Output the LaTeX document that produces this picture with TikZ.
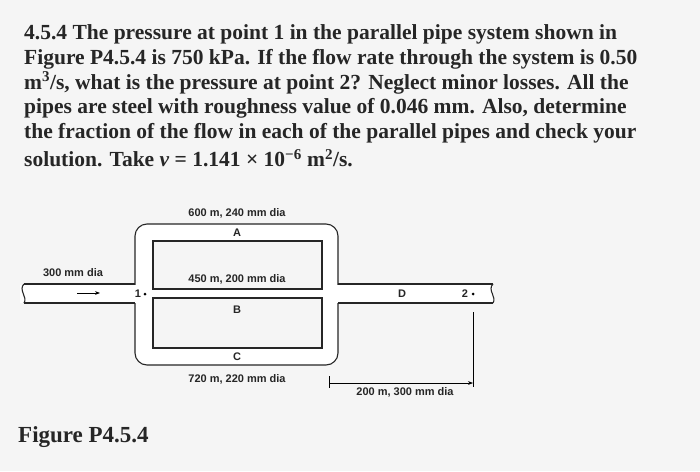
\documentclass[tikz,border=0pt]{standalone}
\usepackage{fontspec}
\setmainfont{Liberation Serif}
\newfontfamily\figsans{Liberation Sans}
\usetikzlibrary{arrows.meta}
\begin{document}
\begin{tikzpicture}[x=1pt,y=-1pt,
  body/.style={anchor=west,inner sep=0pt,font=\bfseries\fontsize{21.5}{22}\selectfont,text=black!85},
  lab/.style={inner sep=0pt,font=\figsans\bfseries\fontsize{11}{12}\selectfont,text=black!85},
  wall/.style={line width=1.1pt,draw=black!85}]
\useasboundingbox[fill=black!4] (0,0) rectangle (700,471);
\node[body] (l1) at (24,34) {4.5.4 The pressure at point 1 in the parallel pipe system shown in};
\node[body] (l2) at (24,59) {Figure P4.5.4 is 750 kPa. If the flow rate through the system is 0.50};
\node[body] (l3) at (24,83) {m\textsuperscript{3}/s, what is the pressure at point 2? Neglect minor losses. All the};
\node[body] (l4) at (24,108) {pipes are steel with roughness value of 0.046 mm. Also, determine};
\node[body] (l5) at (24,133) {the fraction of the flow in each of the parallel pipes and check your};
\node[body] (l6) at (24,158) {solution. Take \textit{ν} = 1.141 × 10\textsuperscript{−6} m\textsuperscript{2}/s.};
\node[body,font=\bfseries\fontsize{23}{24}\selectfont] (fig) at (18,437) {Figure P4.5.4};
% pipes
\draw[wall,fill=white,rounded corners=12pt] (135,224) rectangle (338,365);
\draw[wall,fill=black!4] (153,241) rectangle (322,289);
\draw[wall,fill=black!4] (153,298) rectangle (322,348);
\fill[white] (20,284.5) rectangle (140,302.5);
\fill[white] (333,284.5) rectangle (493,302.5);
\draw[wall] (24,284) -- (135,284) (24,303) -- (135,303);
\draw[wall] (338,284) -- (493,284) (338,303) -- (493,303);
\draw[wall] (24,284) .. controls (18,290) and (28,297) .. (24,303);
\draw[wall] (493,284) .. controls (487,290) and (497,297) .. (493,303);
% labels
\node[lab] (d0) at (73,273) {300 mm dia};
\draw[-{Stealth[length=5pt]},line width=0.9pt] (77,293) -- (100,293);
\node[lab] (p1) at (138,294) {1};
\fill (145,294) circle (1.5pt);
\node[lab] (dA) at (237,213) {600 m, 240 mm dia};
\node[lab] (A) at (237,233) {A};
\node[lab] (dB) at (237,279) {450 m, 200 mm dia};
\node[lab] (B) at (237,310) {B};
\node[lab] (C) at (237,357) {C};
\node[lab] (dC) at (237,379) {720 m, 220 mm dia};
\node[lab] (D) at (402,294) {D};
\node[lab] (p2) at (465,294) {2};
\coordinate (pt2) at (473,294);
\fill (pt2) circle (1.5pt);
\coordinate (dimtop) at (473,312);
\coordinate (dimR) at (473,383);
\coordinate (dimL) at (329,383);
\draw[line width=0.6pt] (dimtop) -- (473,387);
\draw[line width=0.6pt] (329,376) -- (329,388);
\draw[-{Stealth[length=5pt]},line width=0.6pt] (dimL) -- (dimR);
\node[lab] (dD) at (405,392) {200 m, 300 mm dia};
\end{tikzpicture}
\end{document}
